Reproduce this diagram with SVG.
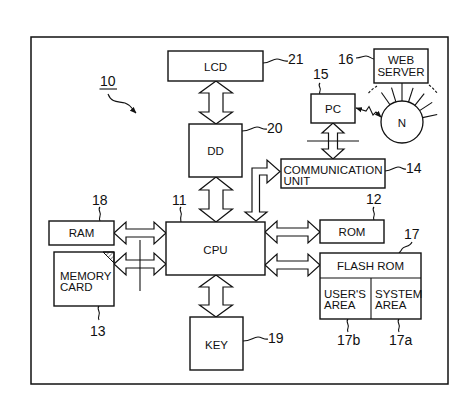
<svg xmlns="http://www.w3.org/2000/svg" width="474" height="414" viewBox="0 0 474 414">
<defs>
<style>
.box{fill:#fff;stroke:#111;stroke-width:1.4}
.arr{fill:#fff;stroke:#111;stroke-width:1.2;stroke-linejoin:miter}
.ln{fill:none;stroke:#111;stroke-width:1.1}
.t{font-family:"Liberation Sans",Arial,sans-serif;font-size:11.5px;fill:#111}
.c{text-anchor:middle}
.n{font-family:"Liberation Sans",Arial,sans-serif;font-size:14px;fill:#111}
</style>
<marker id="ah" viewBox="0 0 10 10" refX="9" refY="5" markerWidth="6" markerHeight="6" orient="auto-start-reverse">
<path d="M0,1 L10,5 L0,9 z" fill="#111"/>
</marker>
<pattern id="hatch" width="3" height="3" patternUnits="userSpaceOnUse" patternTransform="rotate(45)">
<line x1="0" y1="0" x2="0" y2="3" stroke="#111" stroke-width="0.9"/>
</pattern>
</defs>
<rect x="0" y="0" width="474" height="414" fill="#fff"/>
<rect id="frame" x="31" y="37" width="417" height="347" fill="none" stroke="#111" stroke-width="1.5"/>

<g id="connectors">
<!-- LCD-DD -->
<polygon class="arr" points="216,81 232.5,93 223,93 223,112 232.5,112 216,124 199.5,112 209,112 209,93 199.5,93"/>
<!-- DD-CPU -->
<polygon class="arr" points="216,177 232.5,190 223,190 223,209 232.5,209 216,222 199.5,209 209,209 209,190 199.5,190"/>
<!-- CPU-KEY -->
<polygon class="arr" points="216,275 232.5,287 223,287 223,305 232.5,305 216,317 199.5,305 209,305 209,287 199.5,287"/>
<!-- RAM-CPU -->
<polygon class="arr" points="114,233 126,222 126,229 154,229 154,222 166,233 154,244 154,237 126,237 126,244"/>
<!-- MemoryCard-CPU -->
<polygon class="arr" points="114,264 126,253 126,260 154,260 154,253 166,264 154,275 154,268 126,268 126,275"/>
<!-- CPU-ROM -->
<polygon class="arr" points="265,232 277,221 277,228 308,228 308,221 320,232 308,243 308,236 277,236 277,243"/>
<!-- CPU-FLASH -->
<polygon class="arr" points="265,265 277,254 277,261 308,261 308,254 320,265 308,276 308,269 277,269 277,276"/>
<!-- PC-COMM -->
<polygon class="arr" points="333,123 344,133 337.5,133 337.5,149 344,149 333,159 322,149 328.5,149 328.5,133 322,133"/>
<!-- COMM-CPU L arrow -->
<polygon class="arr" points="256,221 267,212 259.5,212 259.5,175 267,175 267,183 280,171.5 267,160 267,168 252,168 252,212 245,212"/>
<!-- crossing lines -->
<line class="ln" x1="140" y1="240" x2="140" y2="291"/>
<line class="ln" x1="307" y1="141" x2="359" y2="141"/>
<!-- PC-N wireless -->
<path class="ln" d="M356,108 L366,111 L369,106.5 L373,115 L376,112 L381,117" marker-start="url(#ah)" marker-end="url(#ah)"/>
<!-- WEB SERVER - N -->
<line class="ln" x1="402" y1="83" x2="402" y2="101"/>
<!-- N rays -->
<g class="rays">
<line class="ln" x1="390" y1="104.8" x2="381.4" y2="92.5"/>
<line class="ln" x1="395.9" y1="101.9" x2="391.5" y2="87.6"/>
<line class="ln" x1="408.5" y1="102" x2="413.1" y2="87.8"/>
<line class="ln" x1="414.9" y1="105.4" x2="424.2" y2="93.6"/>
<line class="ln" x1="419.6" y1="110.6" x2="432.2" y2="102.4"/>
<line class="ln" x1="422.5" y1="117.6" x2="437.2" y2="114.5"/>
<path class="ln" d="M368.5,93 A45,45 0 0 1 377,86" stroke-dasharray="2.5,1.8"/>
<path class="ln" d="M429,85 A45,45 0 0 1 437.5,93.5" stroke-dasharray="2.5,1.8"/>
</g>
<!-- reference squiggles -->
<path class="ln" d="M263,63 C270,63 272,59 277,59 C281,59 283,62 288,61"/>
<path class="ln" d="M242,131 C250,131 252,127 257,127 C261,127 263,130 267,129"/>
<path class="ln" d="M385,171 C392,171 394,167 398,167 C402,167 403,170 406,169"/>
<path class="ln" d="M243,341 C251,341 253,337 258,337 C262,337 264,340 268,339"/>
<path class="ln" d="M356,58 C361,58 363,56 366,56 C370,56 371,59 374,59"/>
<path class="ln" d="M320,83 C317,86 322,88 320,91 C319,93 320,94 320,95"/>
<path class="ln" d="M181,207 C178,210 183,213 181,216 C180,219 181,221 181,222"/>
<path class="ln" d="M100,207 C97,210 102,213 100,216 C99,219 100,221 100,221"/>
<path class="ln" d="M99,306 C96,309 101,312 99,315 C98,318 99,320 99,320"/>
<path class="ln" d="M374,207 C371,210 376,213 374,216 C373,218 374,220 374,220"/>
<path class="ln" d="M412,242 C410,247 404,246 402,249 C401,251 400,252 399,253"/>
<path class="ln" d="M348,319 C345,322 350,325 348,328 C347,330 348,332 348,332"/>
<path class="ln" d="M399,319 C396,322 401,325 399,328 C398,330 399,332 399,332"/>
<!-- 10 arrow -->
<path class="ln" d="M108,94 C112,104 119,101 125,103 C131,105 132,109 136,113" marker-end="url(#ah)"/>
</g>

<g id="lcd"><rect class="box" x="168" y="51" width="95" height="30"/><text class="t c" x="215.5" y="70.5">LCD</text></g>
<g id="dd"><rect class="box" x="189" y="124" width="53" height="53"/><text class="t c" x="215.5" y="155">DD</text></g>
<g id="cpu"><rect class="box" x="166" y="222" width="99" height="53"/><text class="t c" x="215.5" y="254">CPU</text></g>
<g id="key"><rect class="box" x="190" y="317" width="53" height="53"/><text class="t c" x="216.5" y="349">KEY</text></g>
<g id="ram"><rect class="box" x="49" y="221" width="65" height="24"/><text class="t c" x="81.5" y="237">RAM</text></g>
<g id="memcard">
<rect class="box" x="54" y="252" width="60" height="54"/>
<polygon points="103,252 114,252 114,263" fill="url(#hatch)" stroke="#111" stroke-width="1"/>
<text class="t" x="60" y="280">MEMORY</text><text class="t" x="60" y="291">CARD</text>
</g>
<g id="rom"><rect class="box" x="320" y="220" width="64" height="23"/><text class="t c" x="352" y="236">ROM</text></g>
<g id="flash">
<rect class="box" x="320" y="253" width="101" height="66"/>
<line class="ln" x1="320" y1="278" x2="421" y2="278" stroke-width="1.3"/>
<line class="ln" x1="371" y1="278" x2="371" y2="319" stroke-width="1.3"/>
<text class="t c" x="370.5" y="270">FLASH ROM</text>
<text class="t" x="324" y="298">USER'S</text><text class="t" x="324" y="309">AREA</text>
<text class="t" x="375" y="298">SYSTEM</text><text class="t" x="375" y="309">AREA</text>
</g>
<g id="comm"><rect class="box" x="281" y="159" width="104" height="29"/>
<text class="t" x="283.5" y="174" textLength="99" lengthAdjust="spacingAndGlyphs">COMMUNICATION</text><text class="t" x="283.5" y="185">UNIT</text></g>
<g id="pc"><rect class="box" x="311" y="94" width="44" height="29"/><text class="t c" x="333" y="113">PC</text></g>
<g id="webserver"><rect class="box" x="374" y="49" width="54" height="34"/><text class="t c" x="401" y="64">WEB</text><text class="t c" x="401" y="76">SERVER</text></g>
<g id="network"><circle cx="402" cy="122" r="21" fill="#fff" stroke="#111" stroke-width="1.3"/><text class="t c" x="402" y="126.5">N</text></g>

<g id="labels">
<text class="n" x="100" y="86">10</text>
<line class="ln" x1="99.5" y1="89" x2="117" y2="89"/>
<text class="n" x="288" y="64">21</text>
<text class="n" x="267" y="133">20</text>
<text class="n" x="313" y="79">15</text>
<text class="n" x="338" y="64">16</text>
<text class="n" x="406" y="173">14</text>
<text class="n" x="366" y="204">12</text>
<text class="n" x="172" y="205">11</text>
<text class="n" x="92" y="205">18</text>
<text class="n" x="404" y="239">17</text>
<text class="n" x="90" y="336">13</text>
<text class="n" x="268" y="343">19</text>
<text class="n" x="337" y="345">17b</text>
<text class="n" x="389" y="345">17a</text>
</g>
</svg>
